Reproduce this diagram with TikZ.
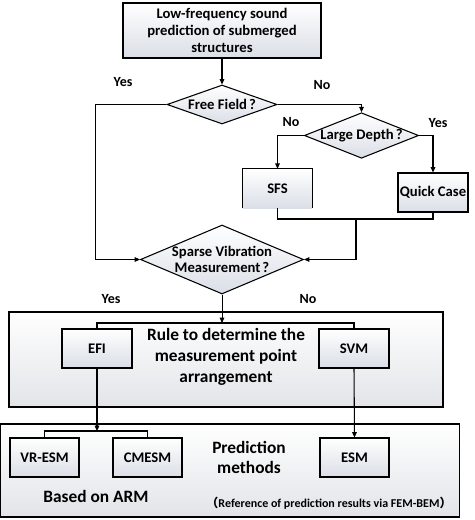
\documentclass[tikz,border=0pt]{standalone}
\usepackage{fontspec}
\setmainfont{Carlito}
\newfontfamily\cjk{Noto Sans CJK SC}
\usepackage{tikz}
\usetikzlibrary{arrows.meta,shapes.geometric}
\definecolor{boxgray}{RGB}{218,222,230}
\definecolor{panelgray}{RGB}{226,228,232}
\tikzset{
    Box/.style = {draw,line width=0.8pt,top color=white,bottom color=boxgray,
        inner sep=0pt,minimum width=#1*0.75pt,minimum height=29.25pt,
        font=\bfseries\fontsize{11}{13}\selectfont,align=center},
    Box/.default = 69,
    Decision/.style n args = {3}{diamond,draw,line width=0.8pt,top color=white,
        bottom color=boxgray,inner sep=0pt,aspect=#3,
        minimum width=#1*0.75pt,minimum height=#2*0.75pt,
        font=\bfseries\fontsize{11}{12}\selectfont,align=center},
    Panel/.style = {draw,line width=0.8pt,top color=white,bottom color=panelgray,
        inner sep=0pt},
    Tag/.style = {font=\bfseries\fontsize{10.5}{12}\selectfont},
    Title/.style = {font=\bfseries\fontsize{13}{15}\selectfont,align=center},
    flow/.style = {line width=0.8pt,-{Triangle[length=4pt,width=3.5pt]}},
    link/.style = {line width=0.8pt}
}
\begin{document}
\begin{tikzpicture}[x=0.75pt,y=-0.75pt]
        \useasboundingbox (0,0) rectangle (474,520);
        % panels
        \node[Panel,minimum width=325.5pt,minimum height=71.25pt] (rulepanel) at (226,359.5) {};
        \node[Panel,minimum width=344.25pt,minimum height=69.75pt] (predpanel) at (230,470.5) {};
        % upper part
        \node[Box=198,minimum height=41.25pt,font=\bfseries\fontsize{11}{12.75}\selectfont] (start) at (222,30.5)
            {Low-frequency sound\\ prediction of submerged\\ structures};
        \node[Decision={110}{39}{2.82}] (free) at (222,104.5) {Free Field\kern1.5pt?};
        \node[Decision={113}{45}{2.51}] (depth) at (361.5,135.5) {Large Depth\kern1.5pt?};
        \node[inner sep=0pt,minimum width=51.75pt,minimum height=29.25pt,top color=white,
            bottom color=boxgray,font=\bfseries\fontsize{11}{13}\selectfont] (sfs) at (277.5,188.5) {SFS};
        \draw[link] (sfs.south west) -- (sfs.north west) -- (sfs.north east) -- (sfs.south east);
        \node[Box=70] (quick) at (433,192.5) {Quick Case};
        \node[Decision={163}{69}{2.36}] (sparse) at (222,259.5) {Sparse Vibration\\ Measurement\kern1.5pt?};
        % lower part
        \node[Box=70] (efi) at (97,348.5) {EFI};
        \node[Box=70] (svm) at (354,348.5) {SVM};
        \node[Title,font=\bfseries\fontsize{13}{15.5}\selectfont] (rule) at (226,357) {Rule to determine the\\ measurement point\\ arrangement};
        \node[Box] (vresm) at (44.5,457.5) {VR-ESM};
        \node[Box] (cmesm) at (147.5,457.5) {CMESM};
        \node[Box] (esm) at (354.5,457.5) {ESM};
        \node[Title] (predict) at (249,457) {Prediction\\ methods};
        \node[Title] (arm) at (96,496) {Based on ARM};
        \node[font=\bfseries\fontsize{9}{10}\selectfont] (note) at (329,503)
            {{\cjk （}Reference of prediction results via FEM-BEM{\cjk ）}};
        % labels
        \node[Tag] (yes1) at (123,82) {Yes};
        \node[Tag] (no1) at (322,85) {No};
        \node[Tag] (no2) at (291,122) {No};
        \node[Tag] (yes2) at (438,123) {Yes};
        \node[Tag] (yes3) at (111,299) {Yes};
        \node[Tag] (no3) at (308,299) {No};
        % connectors
        \coordinate (join) at (356,219);
        \coordinate (split) at (222,323);
        \coordinate (arm split) at (97,431);
        \draw[flow] (start) -- (free);
        \draw[flow] (free.west) -- ++(-71,0) |- (sparse.west);
        \draw[flow] (free.east) -| (depth.north);
        \draw[flow] (depth.west) -| (sfs.north);
        \draw[flow] (depth.east) -| (quick.north);
        \draw[link] (sfs.south) |- (join) -| (quick.south);
        \draw[flow] (join) |- (sparse.east);
        \draw[flow,line width=0.5pt] (sparse.south) -- (split);
        \draw[link] (efi.north) |- (split) -| (svm.north);
        \draw[flow] (efi.south) -- (arm split);
        \draw[link] (vresm.north) |- (arm split) -| (cmesm.north);
        \draw[flow] (svm.south) -- (esm.north);
        \end{tikzpicture}
\end{document}
